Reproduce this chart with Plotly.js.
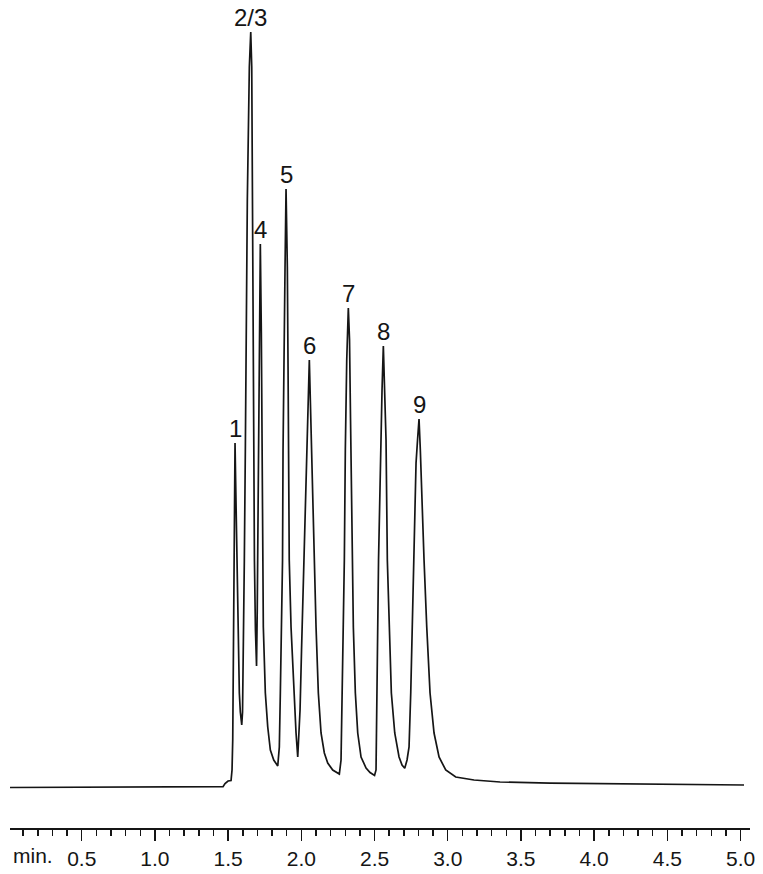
<!DOCTYPE html>
<html>
<head>
<meta charset="utf-8">
<script src="https://cdn.plot.ly/plotly-3.0.1.min.js"></script>
<style>
  html, body { margin: 0; padding: 0; background: #fff; }
  #chart { width: 763px; height: 874px; }
</style>
</head>
<body>
<div id="chart"></div>
<script>
// Retention time (min) of points
const timeMin = [
  0.0102, 0.6250, 1.3081, 1.4105, 1.4652, 1.4788, 1.4993, 1.5198,
  1.5266, 1.5314, 1.5355, 1.5389, 1.5423, 1.5451, 1.5471,
  1.5512, 1.5560, 1.5608, 1.5676, 1.5765, 1.5833, 1.5929,
  1.5984, 1.6038, 1.6107, 1.6175, 1.6223, 1.6311, 1.6448, 1.6544,
  1.6612, 1.6653, 1.6701, 1.6742, 1.6796, 1.6865, 1.6940,
  1.6988, 1.7022, 1.7063, 1.7131, 1.7199,
  1.7268, 1.7316, 1.7343, 1.7404, 1.7541, 1.7705, 1.7883, 1.8115, 1.8388,
  1.8497, 1.8566, 1.8661, 1.8716, 1.8750, 1.8798, 1.8887, 1.8955,
  1.9044, 1.9092, 1.9126, 1.9174, 1.9296, 1.9481, 1.9638, 1.9754,
  1.9843, 1.9911, 2.0014, 2.0082, 2.0198, 2.0355, 2.0478, 2.0546,
  2.0615, 2.0710, 2.0888, 2.1004, 2.1161, 2.1346, 2.1571, 2.1803, 2.2145, 2.2596,
  2.2712, 2.2828, 2.2937, 2.3005, 2.3101, 2.3210,
  2.3292, 2.3361, 2.3429, 2.3463, 2.3552, 2.3689, 2.3852, 2.4078, 2.4420, 2.4693, 2.5000,
  2.5102, 2.5150, 2.5191, 2.5273, 2.5423, 2.5512, 2.5601,
  2.5683, 2.5785, 2.5874, 2.5990, 2.6148, 2.6380, 2.6674, 2.6878, 2.7063,
  2.7220, 2.7357, 2.7473, 2.7582, 2.7698, 2.7835, 2.7937, 2.8039,
  2.8128, 2.8224, 2.8381, 2.8566, 2.8791, 2.9064, 2.9406, 2.9863, 3.0546, 3.1796,
  3.3572, 3.6988, 4.0403, 4.3818, 4.7234, 5.0239
];
// Detector signal (arbitrary units) at those times
const signal = [
  -0.5, -0.3, 0, 0, 0.3, 3.5, 6, 6.5,
  17, 47, 127, 187, 247, 307, 344,
  307, 257, 227, 160, 94, 75, 62,
  75, 127, 227, 337, 454, 587, 720, 755,
  720, 587, 454, 337, 227, 157, 121,
  177, 227, 337, 454, 543,
  454, 337, 227, 160, 94, 60, 37, 27, 21,
  40, 94, 160, 227, 337, 420, 520, 598,
  520, 420, 337, 227, 160, 94, 54, 30,
  52, 77, 137, 177, 242, 337, 387, 427,
  387, 324, 227, 160, 94, 54, 34, 24, 17, 13,
  27, 127, 227, 337, 427, 479,
  447, 367, 287, 227, 160, 94, 54, 30, 19, 14.5, 11.5,
  17, 60, 127, 227, 347, 397, 441,
  397, 347, 227, 160, 94, 54, 30, 22, 18.7,
  27, 40, 94, 160, 227, 324, 347, 368,
  337, 290, 227, 160, 94, 54, 30, 17, 10, 7,
  5, 3.8, 3.2, 2.8, 2.4, 2
];

// Peak labels and apex positions
const peakLabels = ["1", "2/3", "4", "5", "6", "7", "8", "9"];
const peakTimes = [1.547, 1.654, 1.720, 1.896, 2.055, 2.321, 2.560, 2.804];
const peakHeights = [344, 755, 543, 598, 427, 479, 441, 368];

// Axis tick labels
const tickValues = [0.5, 1.0, 1.5, 2.0, 2.5, 3.0, 3.5, 4.0, 4.5, 5.0];
const tickLabels = ["0.5", "1.0", "1.5", "2.0", "2.5", "3.0", "3.5", "4.0", "4.5", "5.0"];
const axisUnit = "min.";
const unitPosition = 0.164;

const FONT = "Liberation Sans Narrow, Arial Narrow, Liberation Sans, Arial, sans-serif";
const INK = "#151515";

const trace = {
  x: timeMin,
  y: signal,
  type: "scatter",
  mode: "lines",
  line: { color: INK, width: 1.7 },
  hoverinfo: "skip"
};

const annotations = peakLabels.map((lab, i) => ({
  x: peakTimes[i],
  y: peakHeights[i],
  xref: "x",
  yref: "y",
  text: lab,
  showarrow: false,
  yanchor: "middle",
  xanchor: "center",
  yshift: 15,
  font: { family: FONT, size: 24, color: INK }
}));

annotations.push({
  x: unitPosition,
  y: 0,
  xref: "x",
  yref: "paper",
  text: axisUnit,
  showarrow: false,
  yanchor: "middle",
  xanchor: "center",
  yshift: -27,
  font: { family: FONT, size: 21, color: INK }
});

const layout = {
  width: 763,
  height: 874,
  margin: { l: 10, r: 13, t: 5, b: 46, pad: 0 },
  paper_bgcolor: "#ffffff",
  plot_bgcolor: "#ffffff",
  showlegend: false,
  xaxis: {
    range: [0.01, 5.0646],
    showgrid: false,
    zeroline: false,
    showline: true,
    linecolor: INK,
    linewidth: 2,
    ticks: "outside",
    ticklen: 11,
    tickwidth: 1.5,
    tickcolor: INK,
    tickmode: "array",
    tickvals: tickValues,
    ticktext: tickLabels,
    tickfont: { family: FONT, size: 21, color: INK },
    minor: {
      tick0: 0,
      dtick: 0.1,
      ticks: "outside",
      ticklen: 6,
      tickwidth: 1.5,
      tickcolor: INK,
      showgrid: false
    },
    fixedrange: true
  },
  yaxis: {
    range: [-41, 782],
    visible: false,
    fixedrange: true
  },
  annotations: annotations
};

Plotly.newPlot("chart", [trace], layout, { displayModeBar: false, staticPlot: true });
</script>
</body>
</html>
